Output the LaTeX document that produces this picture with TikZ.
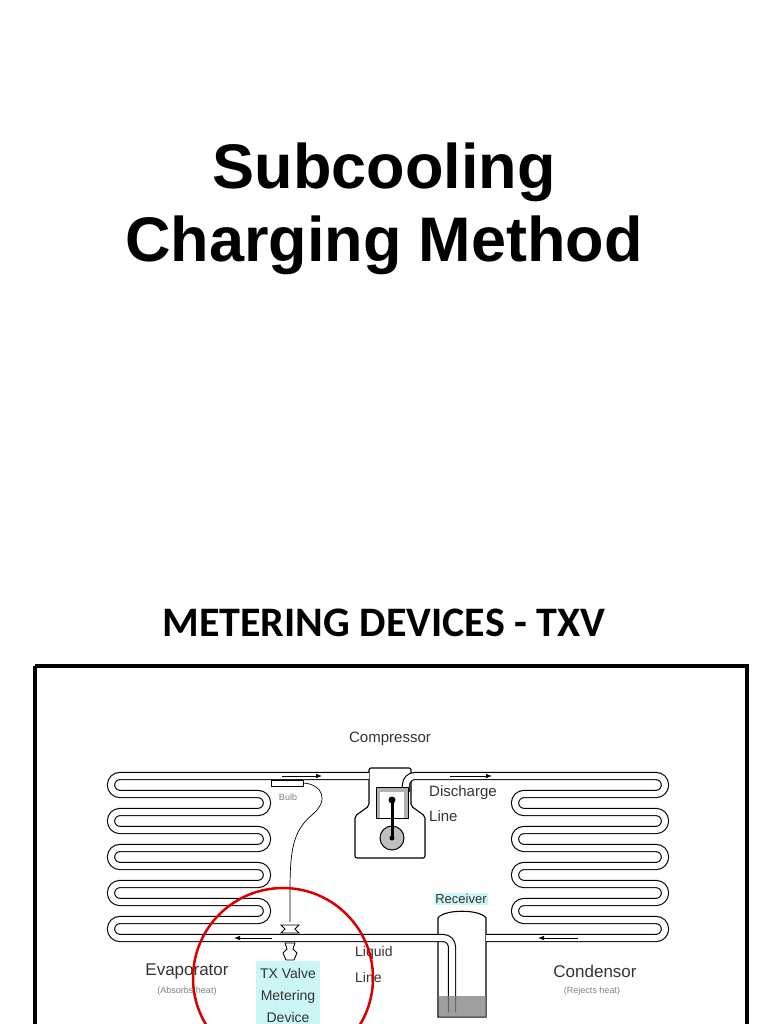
\documentclass[tikz,border=0pt]{standalone}
\usepackage{fontspec}
\setmainfont{Liberation Sans}
\newfontfamily\calib{Carlito}
\usetikzlibrary{arrows.meta}
\definecolor{hl}{HTML}{CCF5F5}
\definecolor{ink}{HTML}{333333}
\begin{document}
\begin{tikzpicture}[x=1pt,y=-1pt,
  pipe/.style={double=white,double distance=6pt,line width=1.1pt,rounded corners=9pt},
  flow/.style={line width=0.7pt,-{Latex[length=6pt,width=4.5pt]}},
  lbl/.style={text=ink,inner sep=1pt,font=\fontsize{15}{15}\selectfont},
  tiny/.style={text=gray,inner sep=0pt,font=\fontsize{9}{9}\selectfont}]
\useasboundingbox (0,0) rectangle (768,1024);
\fill[white] (0,0) rectangle (768,1024);
\node (t1) at (384,172) {\fontsize{63}{63}\selectfont\bfseries Subcooling};
\node (t2) at (384,245) {\fontsize{63}{63}\selectfont\bfseries Charging Method};
\node (t3) at (384,623) {\calib\fontsize{42}{42}\selectfont\bfseries METERING DEVICES - TXV};
\draw[line width=4pt] (35,666) -- (747,666) -- (747,1040) (35,1040) -- (35,666);
% receiver
\draw[line width=1.1pt,fill=white] (438,1017)--(438,918) .. controls (444,909) and (480,909) .. (486,918) -- (486,1017) -- cycle;
% compressor
\draw[line width=1.1pt,fill=white,rounded corners=2pt] (369,768)--(411,768)--(411,806)--(425,816)--(425,858)--(355,858)--(355,816)--(369,806)--cycle;
% evaporator + liquid line
\draw[pipe] (369,776) -- (111,776) -- (111,794) -- (267,794) -- (267,812) -- (111,812) -- (111,830) -- (267,830) -- (267,848) -- (111,848) -- (111,866) -- (267,866) -- (267,884) -- (111,884) -- (111,902) -- (267,902) -- (267,920) -- (111,920) -- (111,938) -- (452,938) -- (452,1012);
% condenser + discharge
\draw[pipe] (406,792) -- (406,776) -- (665,776) -- (665,794) -- (515,794) -- (515,812) -- (665,812) -- (665,830) -- (515,830) -- (515,848) -- (665,848) -- (665,866) -- (515,866) -- (515,884) -- (665,884) -- (665,902) -- (515,902) -- (515,920) -- (665,920) -- (665,938) -- (486,938);
\fill[gray,opacity=0.75] (439,996) -- (486,996) -- (486,1016.5) -- (439,1016.5) -- cycle;
% compressor internals
\draw[line width=1pt,fill=gray!60] (376,787) rectangle (408,818);
\fill[white] (380,792) rectangle (404,818);
\draw[line width=1pt,fill=gray!50] (392,838) circle (12);
\draw[line width=3pt] (392,800) -- (392,838);
\fill (392,800) circle (3.5); \fill (392,838) circle (2.5);
% bulb and capillary
\draw[line width=0.8pt,fill=white] (271,780) rectangle (303,786);
\draw[line width=0.7pt] (303,783) .. controls (322,784) and (330,800) .. (312,815) .. controls (288,835) and (290,860) .. (290,922);
% TXV
\draw[line width=0.9pt,fill=white] (281,925) -- (299,925) -- (295,929) -- (299,933) -- (281,933) -- (285,929) -- cycle;
\draw[line width=0.9pt,fill=white] (285,943) -- (295,943) -- (293,949) -- (297,953) -- (294,960) -- (286,960) -- (283,953) -- (287,949) -- cycle;
% arrows
\draw[flow] (282,776) -- (322,776);
\draw[flow] (450,776) -- (492,776);
\draw[flow] (272,938) -- (234,938);
\draw[flow] (578,938) -- (538,938);
% labels
\node[lbl] (comp) at (390,739) {Compressor};
\node[tiny] (bulb) at (288,797) {Bulb};
\node[lbl,anchor=west] (dis) at (428,793) {Discharge};
\node[lbl,anchor=west] (disl) at (428,816) {Line};
\node[lbl,fill=hl,font=\fontsize{13}{13}\selectfont] (rec) at (461,899) {Receiver};
\node[lbl,anchor=west,font=\fontsize{14}{14}\selectfont] (liq) at (354,953) {Liquid};
\node[lbl,anchor=west,font=\fontsize{14}{14}\selectfont] (liql) at (354,977) {Line};
\node[lbl,font=\fontsize{17}{17}\selectfont] (evap) at (187,971) {Evaporator};
\node[tiny] (abs) at (187,991) {(Absorbs heat)};
\node[lbl,font=\fontsize{17}{17}\selectfont] (cond) at (595,971) {Condensor};
\node[tiny] (rej) at (592,991) {(Rejects heat)};
\fill[hl] (256,961) rectangle (320,1024);
\node[lbl,font=\fontsize{14}{14}\selectfont] (tx1) at (288,973) {TX Valve};
\node[lbl,font=\fontsize{14}{14}\selectfont] (tx2) at (288,997) {Metering};
\node[lbl,font=\fontsize{14}{14}\selectfont] (tx3) at (288,1017) {Device};
% red circle
\draw[red!85!black,line width=2.5pt] (283,978) circle (90);
\end{tikzpicture}
\end{document}
